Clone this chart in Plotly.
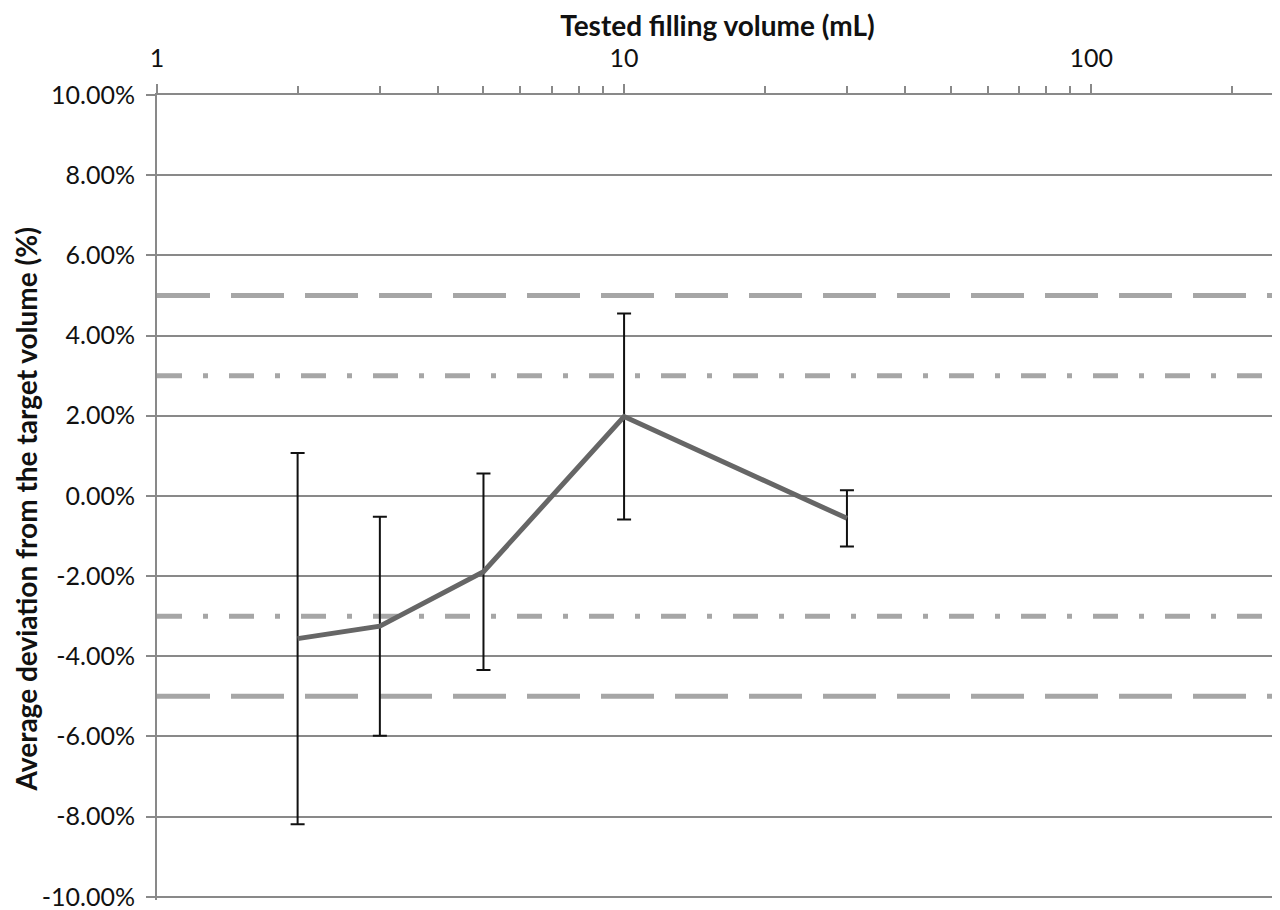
import plotly.graph_objects as go

# data
volumes = [2, 3, 5, 10, 30]
mean_dev = [-0.0356, -0.0325, -0.0189, 0.0198, -0.0056]
sd_dev = [0.0463, 0.0273, 0.0245, 0.0257, 0.0070]

outer_limits = [0.05, -0.05]
inner_limits = [0.03, -0.03]

x_major = [1, 10, 100]
x_major_text = ["1", "10", "100"]
x_minor = [2, 3, 4, 5, 6, 7, 8, 9, 20, 30, 40, 50, 60, 70, 80, 90, 200]

y_ticks = [-0.10, -0.08, -0.06, -0.04, -0.02, 0.0, 0.02, 0.04, 0.06, 0.08, 0.10]
y_text = ["\u201010.00%", "\u20108.00%", "\u20106.00%", "\u20104.00%", "\u20102.00%", "0.00%",
          "2.00%", "4.00%", "6.00%", "8.00%", "10.00%"]

axis_grey = "#898989"
ref_grey = "#a6a6a6"
font_name = "Lato"

fig = go.Figure()

for lim in outer_limits:
    fig.add_hline(y=lim, line=dict(color=ref_grey, width=5, dash="53px,21px"), layer="below")
for lim in inner_limits:
    fig.add_hline(y=lim, line=dict(color=ref_grey, width=5, dash="25px,21px,5px,21px"), layer="below")

fig.add_trace(go.Scatter(
    x=volumes, y=mean_dev, mode="lines",
    line=dict(color="#666666", width=5),
    error_y=dict(type="data", array=sd_dev, visible=True,
                 color="#111111", thickness=2, width=7),
    showlegend=False,
))

# y title placed by hand so it sits at the far left like the original
fig.add_annotation(
    text="<b>Average deviation from the target volume (%)</b>",
    xref="paper", yref="paper", x=-0.117, y=0.485,
    xanchor="center", yanchor="middle", textangle=-90, showarrow=False,
    borderpad=0,
    font=dict(family=font_name, size=28, color="#111111"),
)

# page body has an 8px margin, so the figure is a bit smaller than the window
fig.update_layout(
    width=1272, height=902,
    margin=dict(l=149, r=2, t=87, b=10),
    paper_bgcolor="white", plot_bgcolor="white",
    font=dict(family=font_name, size=27, color="#111111"),
    xaxis=dict(
        type="log", side="top", range=[0, 2.4], automargin=False,
        tickvals=x_major, ticktext=x_major_text,
        ticks="outside", ticklen=9, tickcolor=axis_grey, tickwidth=1.5,
        minor=dict(tickvals=x_minor, ticks="outside", ticklen=7,
                   tickcolor=axis_grey, tickwidth=1.5, showgrid=False),
        showgrid=False, zeroline=False,
        showline=True, linecolor=axis_grey, linewidth=2,
        ticklabelstandoff=7,
        title=dict(text="Tested filling volume (mL)", standoff=19,
                   font=dict(family=font_name, size=28, weight="bold")),
        tickfont=dict(size=25),
    ),
    yaxis=dict(
        range=[-0.1008, 0.10], automargin=False,
        tickvals=y_ticks, ticktext=y_text,
        ticks="outside", ticklen=9, tickcolor=axis_grey, tickwidth=1.5,
        showgrid=True, gridcolor=axis_grey, gridwidth=1.5,
        zeroline=False,
        showline=True, linecolor=axis_grey, linewidth=2,
        ticklabelstandoff=6, ticklabeloverflow="allow",
        tickfont=dict(size=25),
    ),
)

fig.write_html("out.html")
